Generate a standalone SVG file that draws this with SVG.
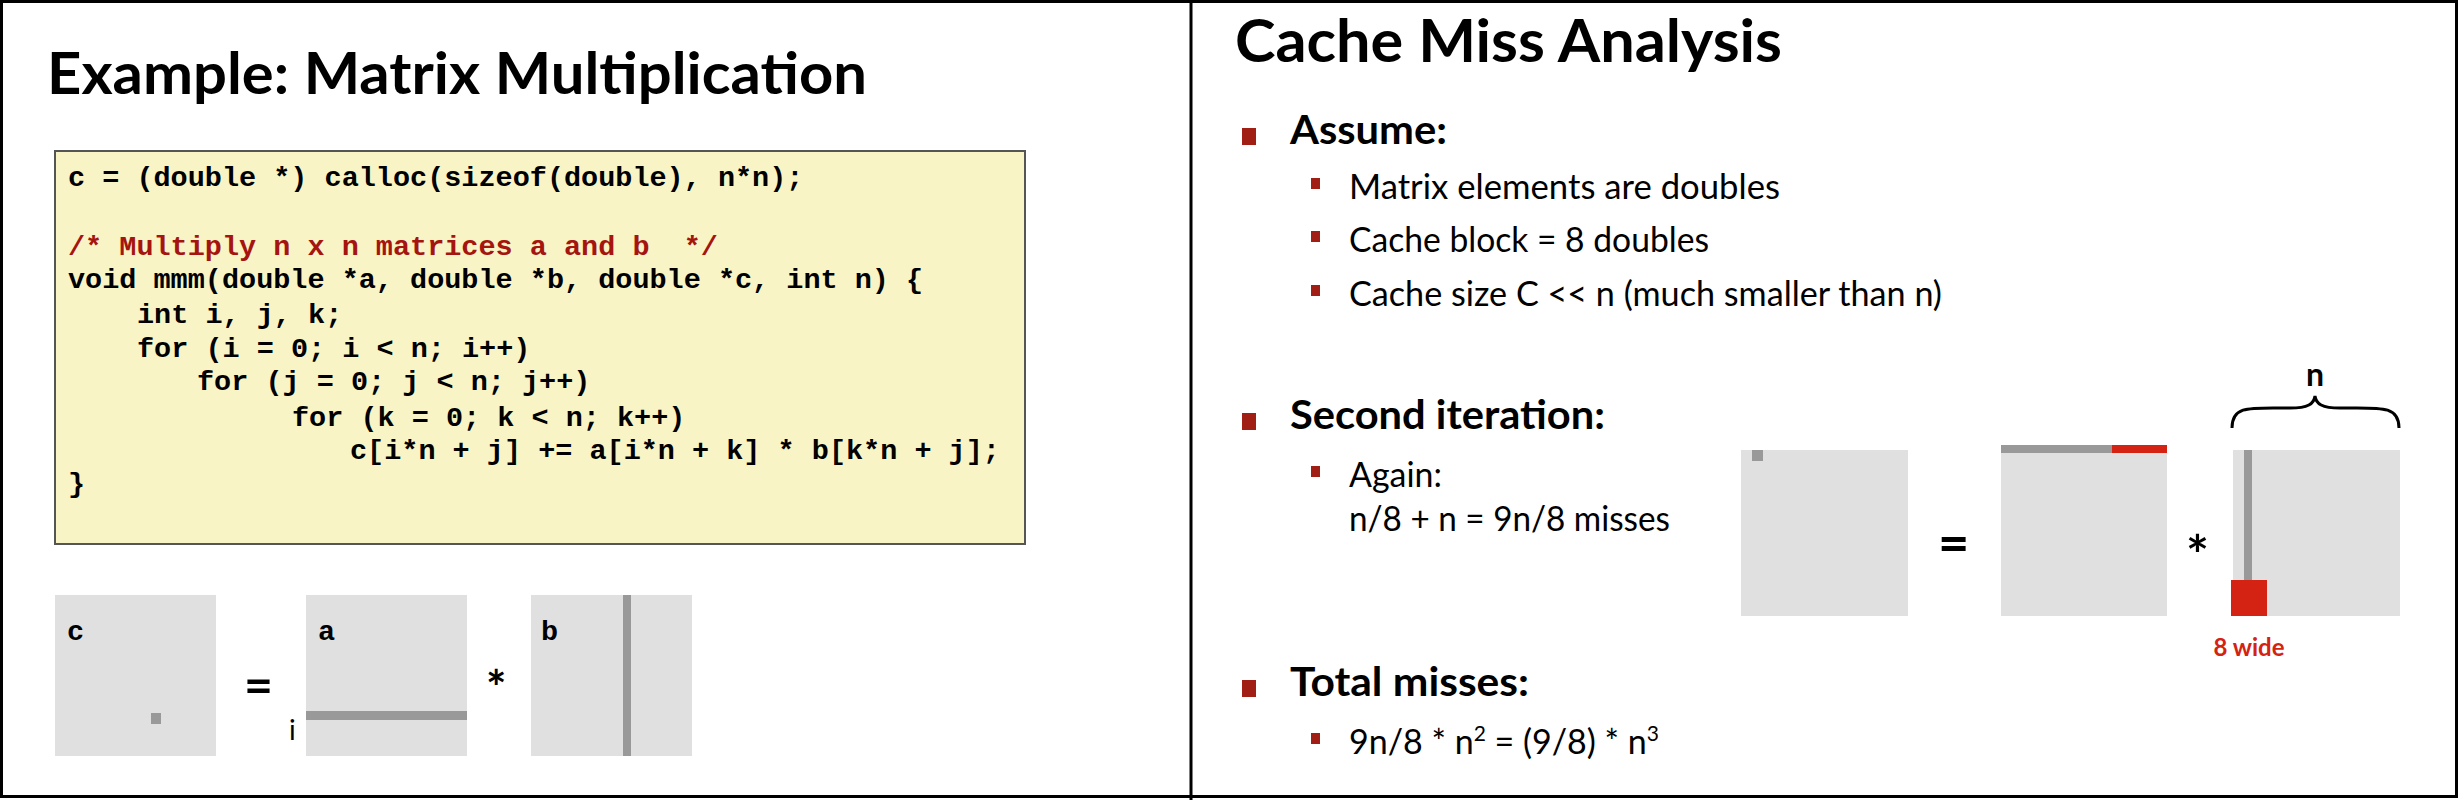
<svg xmlns="http://www.w3.org/2000/svg" width="2458" height="800" viewBox="0 0 2458 800">
<style>
.t{font-family:Lato,"Open Sans",sans-serif;fill:#000}
.b{font-weight:bold}
.code{font-family:"Liberation Mono","Courier New",monospace;font-weight:bold;font-size:28.5px;fill:#000;white-space:pre}
.red{fill:#a5140f}
.mat{fill:#e0e0e0}
.bar{fill:#999}
.hl{fill:#d42312}
.bul{fill:#a01e14}
</style>
<rect x="0" y="0" width="2458" height="800" fill="#fff"/>
<rect x="1.5" y="1.5" width="2455" height="795" fill="none" stroke="#000" stroke-width="3"/>
<line x1="1191" y1="0" x2="1191" y2="800" stroke="#000" stroke-width="3"/>

<g id="left-title"><text class="t b" x="47" y="94" font-size="58" textLength="820" lengthAdjust="spacingAndGlyphs">Example: Matrix Multiplication</text></g>
<g id="code">
<rect x="55" y="151" width="970" height="393" fill="#f8f4c6" stroke="#555" stroke-width="2"/>
<text class="code" x="68" y="186">c = (double *) calloc(sizeof(double), n*n);</text>
<text class="code red" x="68" y="255">/* Multiply n x n matrices a and b  */</text>
<text class="code" x="68" y="288">void mmm(double *a, double *b, double *c, int n) {</text>
<text class="code" x="137" y="323">int i, j, k;</text>
<text class="code" x="137" y="357">for (i = 0; i &lt; n; i++)</text>
<text class="code" x="197" y="390">for (j = 0; j &lt; n; j++)</text>
<text class="code" x="292" y="426">for (k = 0; k &lt; n; k++)</text>
<text class="code" x="350" y="459">c[i*n + j] += a[i*n + k] * b[k*n + j];</text>
<text class="code" x="68" y="492">}</text>
</g>
<g id="matC"><rect class="mat" x="55" y="595" width="161" height="161"/><rect class="bar" x="151" y="713" width="10" height="11"/><text class="code" x="67" y="640" font-size="32">c</text></g>
<text class="t b" x="244" y="703" font-size="50">=</text>
<g id="matA"><rect class="mat" x="306" y="595" width="161" height="161"/><rect class="bar" x="306" y="711" width="161" height="9"/><text class="code" x="318" y="640" font-size="32">a</text><text class="t" x="289" y="740" font-size="28">i</text></g>
<text class="t b" x="486" y="705" font-size="48">*</text>
<g id="matB"><rect class="mat" x="531" y="595" width="161" height="161"/><rect class="bar" x="623" y="595" width="8" height="161"/><text class="code" x="541" y="640" font-size="32">b</text></g>

<g id="right-title"><text class="t b" x="1235" y="62" font-size="60" textLength="547" lengthAdjust="spacingAndGlyphs">Cache Miss Analysis</text></g>
<g id="bullets">
<rect class="bul" x="1242" y="128" width="14" height="17"/>
<text class="t b" x="1290" y="144" font-size="40" textLength="157" lengthAdjust="spacingAndGlyphs">Assume:</text>
<rect class="bul" x="1311" y="178" width="9" height="11"/>
<text class="t" x="1349" y="199" font-size="34" textLength="431" lengthAdjust="spacingAndGlyphs">Matrix elements are doubles</text>
<rect class="bul" x="1311" y="231" width="9" height="11"/>
<text class="t" x="1349" y="252" font-size="34" textLength="360" lengthAdjust="spacingAndGlyphs">Cache block = 8 doubles</text>
<rect class="bul" x="1311" y="285" width="9" height="11"/>
<text class="t" x="1349" y="306" font-size="34" textLength="593" lengthAdjust="spacingAndGlyphs">Cache size C &lt;&lt; n (much smaller than n)</text>
<rect class="bul" x="1242" y="413" width="14" height="17"/>
<text class="t b" x="1290" y="429" font-size="40" textLength="315" lengthAdjust="spacingAndGlyphs">Second iteration:</text>
<rect class="bul" x="1311" y="466" width="9" height="11"/>
<text class="t" x="1349" y="487" font-size="34" textLength="93" lengthAdjust="spacingAndGlyphs">Again:</text>
<text class="t" x="1349" y="531" font-size="34" textLength="321" lengthAdjust="spacingAndGlyphs">n/8 + n = 9n/8 misses</text>
<rect class="bul" x="1242" y="680" width="14" height="17"/>
<text class="t b" x="1290" y="696" font-size="40" textLength="239" lengthAdjust="spacingAndGlyphs">Total misses:</text>
<rect class="bul" x="1311" y="733" width="9" height="11"/>
<text class="t" x="1349" y="754" font-size="34">9n/8 * n<tspan font-size="21" dy="-13">2</tspan><tspan dy="13"> = (9/8) * n</tspan><tspan font-size="21" dy="-13">3</tspan></text>
</g>
<g id="rmat1"><rect class="mat" x="1741" y="450" width="167" height="166"/><rect class="bar" x="1752" y="450" width="11" height="11"/></g>
<text class="t b" x="1938" y="562" font-size="54">=</text>
<g id="rmat2"><rect class="mat" x="2001" y="450" width="166" height="166"/><rect class="bar" x="2001" y="445" width="111" height="8"/><rect class="hl" x="2112" y="445" width="55" height="8"/></g>
<text class="t b" x="2186" y="574" font-size="54">*</text>
<g id="rmat3"><rect class="mat" x="2233" y="450" width="167" height="166"/><rect class="bar" x="2244" y="450" width="8" height="132"/><rect class="hl" x="2231" y="580" width="36" height="36"/>
<text class="t b" x="2249" y="656" font-size="24" text-anchor="middle" style="fill:#d42312">8 wide</text></g>
<g id="brace"><path d="M2232 428 C2232 405 2250 408 2290 408 C2308 408 2314 404 2315 396 C2316 404 2322 408 2340 408 C2380 408 2399 405 2399 428" fill="none" stroke="#000" stroke-width="3"/>
<text class="t b" x="2315" y="386" font-size="32" text-anchor="middle">n</text></g>
</svg>
